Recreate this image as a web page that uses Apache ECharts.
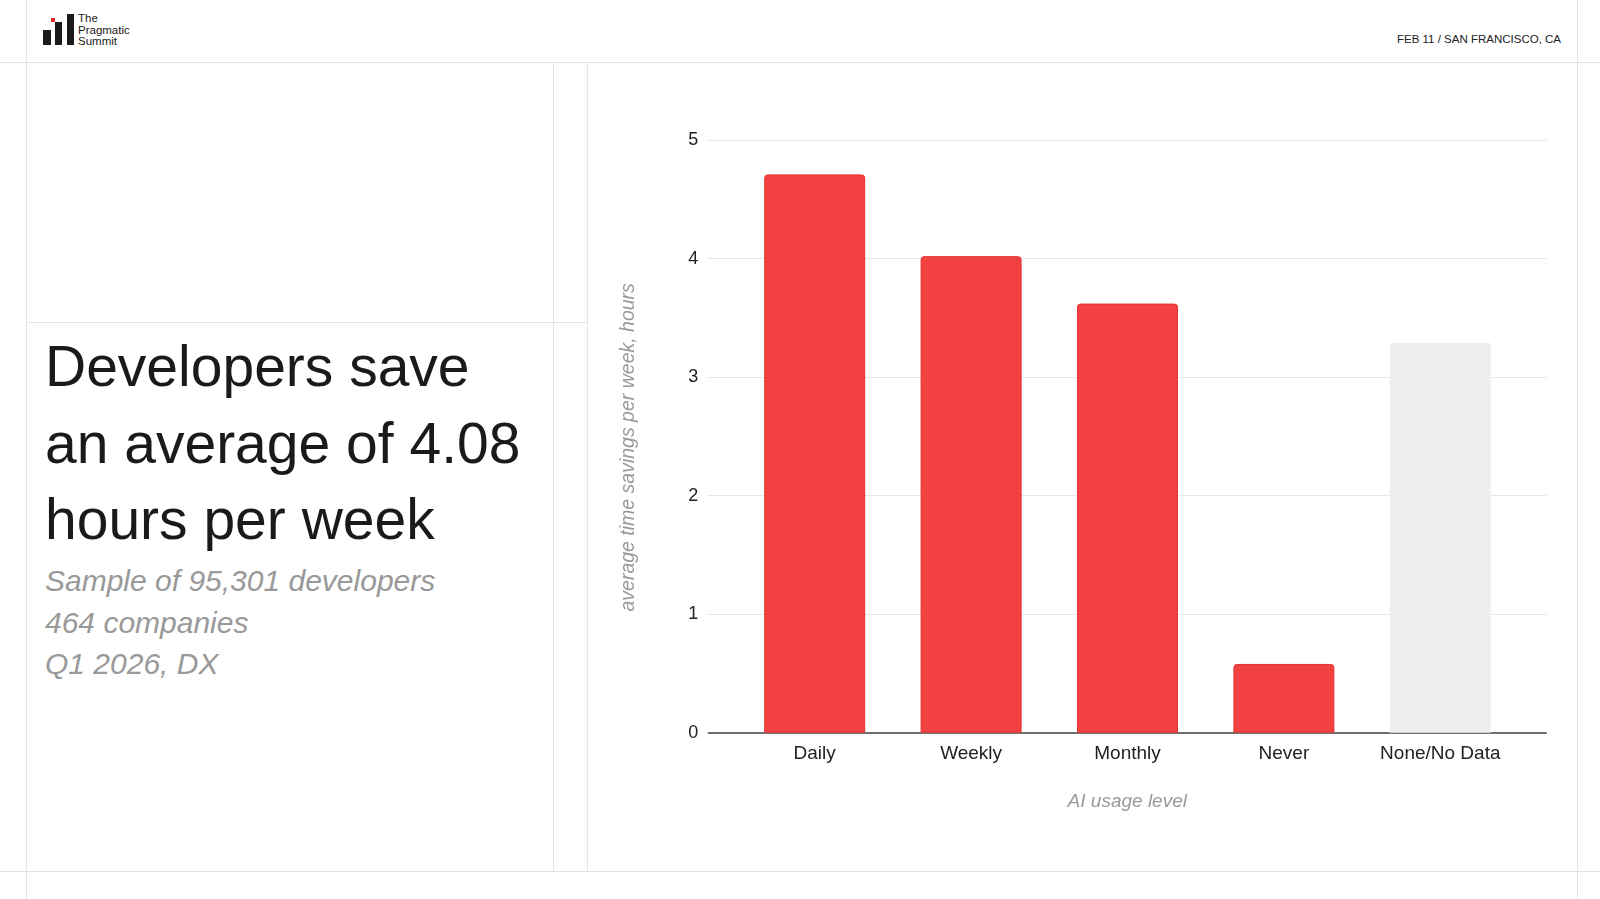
<!DOCTYPE html>
<html>
<head>
<meta charset="utf-8">
<script src="https://cdn.jsdelivr.net/npm/echarts@6/dist/echarts.min.js"></script>
<style>
  html, body { margin:0; padding:0; width:1600px; height:899px; background:#fff; overflow:hidden; }
  body { font-family: "Liberation Sans", Arial, Helvetica, sans-serif; position:relative; }
  .ln { position:absolute; background:#e4e4e4; }
  #chart { position:absolute; left:0; top:0; width:1600px; height:899px; }
  .logo-bar { position:absolute; background:#1b1b1b; }
</style>
</head>
<body>
<!-- page frame lines -->
<div class="ln" style="left:0;top:62px;width:1600px;height:1px;"></div>
<div class="ln" style="left:0;top:871px;width:1600px;height:1px;"></div>
<div class="ln" style="left:26px;top:0;width:1px;height:899px;"></div>
<div class="ln" style="left:1577px;top:0;width:1px;height:899px;"></div>
<div class="ln" style="left:553px;top:62px;width:1px;height:809px;"></div>
<div class="ln" style="left:587px;top:62px;width:1px;height:809px;"></div>
<div class="ln" style="left:26px;top:322px;width:561px;height:1px;"></div>

<!-- logo -->
<div class="logo-bar" style="left:43px;top:30px;width:8px;height:15px;"></div>
<div class="logo-bar" style="left:55px;top:22px;width:7px;height:23px;"></div>
<div class="logo-bar" style="left:67px;top:14px;width:7px;height:31px;"></div>
<div style="position:absolute;left:51px;top:18px;width:4px;height:4px;background:#e8262b;"></div>
<div style="position:absolute;left:78px;top:13px;font-size:11.5px;line-height:11.5px;color:#1b1b1b;">The<br>Pragmatic<br>Summit</div>

<div style="position:absolute;right:39px;top:32px;font-size:11.5px;line-height:14px;color:#222;white-space:nowrap;">FEB 11 / SAN FRANCISCO, CA</div>

<!-- headline -->
<div style="position:absolute;left:45px;top:328px;font-size:57px;line-height:76.7px;color:#1a1a1a;white-space:nowrap;">Developers save<br>an average of 4.08<br>hours per week</div>
<div style="position:absolute;left:45px;top:560px;font-size:30px;line-height:41.5px;color:#999;font-style:italic;white-space:nowrap;">Sample of 95,301 developers<br>464 companies<br>Q1 2026, DX</div>

<div id="chart"></div>
<script>
const categories = ['Daily', 'Weekly', 'Monthly', 'Never', 'None/No Data'];
const hoursSaved = [4.71, 4.02, 3.62, 0.58, 3.29];
const yTicks = [0, 1, 2, 3, 4, 5];
const noDataCategory = 'None/No Data';
const xAxisTitle = 'AI usage level';
const yAxisTitle = 'average time savings per week, hours';

const chart = echarts.init(document.getElementById('chart'), null, { renderer: 'canvas' });
const fontFamily = '"Liberation Sans", Arial, Helvetica, sans-serif';

const barData = hoursSaved.map((v, i) => {
  const isNoData = categories[i] === noDataCategory;
  return {
    value: v,
    itemStyle: isNoData
      ? { color: '#eeeeee', borderWidth: 0, borderRadius: [3, 3, 0, 0] }
      : { color: '#f24141', borderColor: '#e43434', borderWidth: 1, borderRadius: [3, 3, 0, 0] }
  };
});

const yMin = yTicks[0], yMax = yTicks[yTicks.length - 1];
const yStep = yTicks[1] - yTicks[0];

chart.setOption({
  animation: false,
  backgroundColor: 'transparent',
  textStyle: { fontFamily },
  grid: [
    { left: 736.5, width: 782, top: 140, height: 592.7, containLabel: false },
    { left: 708.3, width: 838, top: 140, height: 592.7, containLabel: false }
  ],
  xAxis: [
    {
      gridIndex: 0, type: 'category', data: categories,
      axisLine: { show: false }, axisTick: { show: false },
      axisLabel: { interval: 0, fontSize: 19, color: '#222', margin: 12, fontFamily }
    },
    {
      gridIndex: 1, type: 'value', min: 0, max: 1,
      axisLine: { show: true, onZero: false, lineStyle: { color: '#444', width: 1.5 } },
      axisTick: { show: false }, axisLabel: { show: false }, splitLine: { show: false },
      name: xAxisTitle, nameLocation: 'middle', nameGap: 60,
      nameTextStyle: { fontSize: 19, color: '#999', fontStyle: 'italic', fontFamily }
    }
  ],
  yAxis: [
    { gridIndex: 0, type: 'value', min: yMin, max: yMax, interval: yStep, show: false },
    {
      gridIndex: 1, type: 'value', min: yMin, max: yMax, interval: yStep,
      axisLine: { show: false }, axisTick: { show: false },
      axisLabel: { fontSize: 18, color: '#222', margin: 10, fontFamily },
      splitLine: { lineStyle: { color: '#e6e6e6', width: 1 } },
      name: yAxisTitle, nameLocation: 'middle', nameGap: 70, nameRotate: 90,
      nameTextStyle: { fontSize: 19.5, color: '#999', fontStyle: 'italic', fontFamily, padding: [0, 22, 0, 0] }
    }
  ],
  series: [
    {
      type: 'bar', xAxisIndex: 0, yAxisIndex: 0,
      data: barData, barWidth: 101, z: 3
    }
  ]
});
</script>
</body>
</html>
